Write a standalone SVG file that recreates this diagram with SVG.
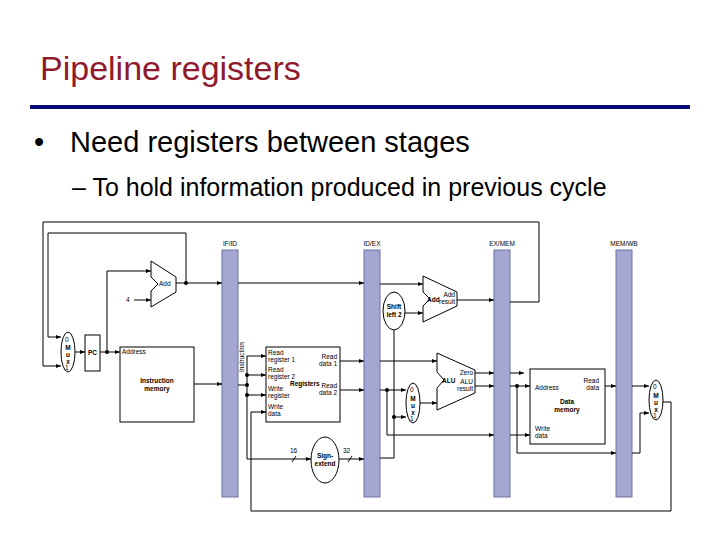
<svg xmlns="http://www.w3.org/2000/svg" width="720" height="540" viewBox="0 0 720 540">
<defs>
<marker id="a" viewBox="0 0 10 10" refX="10" refY="5" markerWidth="5" markerHeight="5" orient="auto"><path d="M0,1 L10,5 L0,9 z" fill="#000"/></marker>
<style>
.w{fill:none;stroke:#000;stroke-width:1}
.ar{marker-end:url(#a)}
.bar{fill:#a3a7d2;stroke:#6e72a6;stroke-width:1}
.box{fill:#fff;stroke:#000;stroke-width:1}
.t{font-family:"Liberation Sans",Arial,sans-serif;font-size:6.5px;fill:#000}
.b{font-family:"Liberation Sans",Arial,sans-serif;font-size:6.5px;font-weight:bold;fill:#000}
.d{fill:#000}
</style>
</defs>
<rect width="720" height="540" fill="#fff"/>
<text x="40" y="80" font-family="Liberation Sans,Arial,sans-serif" font-size="34" fill="#8f1a2e">Pipeline registers</text>
<rect x="30" y="105" width="660" height="4" fill="#0a0a78"/>
<text x="34" y="152" font-family="Liberation Sans,Arial,sans-serif" font-size="29" fill="#000">•</text>
<text x="70" y="152" font-family="Liberation Sans,Arial,sans-serif" font-size="29" fill="#000">Need registers between stages</text>
<text x="72" y="196" font-family="Liberation Sans,Arial,sans-serif" font-size="25" fill="#000">– To hold information produced in previous cycle</text>

<g id="ifid"><rect class="bar" x="222" y="250" width="16" height="247"/><text class="t" x="230" y="246" text-anchor="middle">IF/ID</text></g>
<g id="idex"><rect class="bar" x="364" y="250" width="16" height="247"/><text class="t" x="372" y="246" text-anchor="middle">ID/EX</text></g>
<g id="exmem"><rect class="bar" x="494" y="250" width="16" height="247"/><text class="t" x="502" y="246" text-anchor="middle">EX/MEM</text></g>
<g id="memwb"><rect class="bar" x="616" y="250" width="16" height="247"/><text class="t" x="624" y="246" text-anchor="middle">MEM/WB</text></g>

<g id="mux1"><ellipse class="box" cx="68" cy="352" rx="7" ry="20"/><text class="t" x="65" y="342" font-size="5.5">0</text><text class="b" x="68" y="350" text-anchor="middle">M</text><text class="b" x="68" y="357" text-anchor="middle">u</text><text class="b" x="68" y="364" text-anchor="middle">x</text><text class="t" x="65" y="370" font-size="5.5">1</text></g>
<g id="pc"><rect class="box" x="85" y="335" width="15" height="36"/><text class="b" x="92.5" y="355" text-anchor="middle">PC</text></g>
<g id="add1"><path class="box" d="M151,261 L176,277 L176,292 L151,307 L151,291 L158,284 L151,277 Z"/><text class="t" x="159" y="286">Add</text></g>
<g id="imem"><rect class="box" x="120" y="347" width="74" height="75"/><text class="t" x="122" y="354">Address</text><text class="b" x="157" y="383" text-anchor="middle">Instruction</text><text class="b" x="157" y="391" text-anchor="middle">memory</text></g>
<g id="regs"><rect class="box" x="266" y="347" width="74" height="75"/>
<text class="t" x="268" y="355">Read</text><text class="t" x="268" y="362">register 1</text>
<text class="t" x="268" y="372">Read</text><text class="t" x="268" y="379">register 2</text>
<text class="t" x="268" y="391">Write</text><text class="t" x="268" y="398">register</text>
<text class="t" x="268" y="409">Write</text><text class="t" x="268" y="416">data</text>
<text class="b" x="290" y="386">Registers</text>
<text class="t" x="337" y="359" text-anchor="end">Read</text><text class="t" x="337" y="366" text-anchor="end">data 1</text>
<text class="t" x="337" y="388" text-anchor="end">Read</text><text class="t" x="337" y="395" text-anchor="end">data 2</text></g>
<g id="sext"><ellipse class="box" cx="325" cy="460" rx="14" ry="23"/><text class="b" x="325" y="458" text-anchor="middle">Sign-</text><text class="b" x="325" y="466" text-anchor="middle">extend</text></g>
<g id="shift"><ellipse class="box" cx="394" cy="311" rx="11" ry="19"/><text class="b" x="394" y="309" text-anchor="middle">Shift</text><text class="b" x="394" y="317" text-anchor="middle">left 2</text></g>
<g id="add2"><path class="box" d="M423,276 L457,292 L457,306 L423,322 L423,306 L430,299 L423,292 Z"/><text class="b" x="427" y="302" font-size="5.5">Add</text><text class="t" x="455" y="297" text-anchor="end" font-size="5">Add</text><text class="t" x="455" y="304" text-anchor="end" font-size="5">result</text></g>
<g id="alu"><path class="box" d="M437,353 L475,370 L475,393 L437,410 L437,388 L444,380 L437,372 Z"/><text class="b" x="442" y="383">ALU</text><text class="t" x="473" y="375" text-anchor="end">Zero</text><text class="t" x="473" y="384" text-anchor="end">ALU</text><text class="t" x="473" y="391" text-anchor="end">result</text></g>
<g id="mux2"><ellipse class="box" cx="413" cy="403" rx="7" ry="20"/><text class="t" x="410" y="392" font-size="5.5">0</text><text class="b" x="413" y="401" text-anchor="middle">M</text><text class="b" x="413" y="408" text-anchor="middle">u</text><text class="b" x="413" y="415" text-anchor="middle">x</text><text class="t" x="410" y="421" font-size="5.5">1</text></g>
<g id="dmem"><rect class="box" x="530" y="369" width="75" height="75"/><text class="t" x="535" y="390">Address</text><text class="t" x="599" y="383" text-anchor="end">Read</text><text class="t" x="599" y="390" text-anchor="end">data</text><text class="b" x="567" y="404" text-anchor="middle">Data</text><text class="b" x="567" y="412" text-anchor="middle">memory</text><text class="t" x="535" y="431">Write</text><text class="t" x="535" y="438">data</text></g>
<g id="mux3"><ellipse class="box" cx="656" cy="400" rx="7" ry="20"/><text class="t" x="653" y="389" font-size="5.5">0</text><text class="b" x="656" y="398" text-anchor="middle">M</text><text class="b" x="656" y="405" text-anchor="middle">u</text><text class="b" x="656" y="412" text-anchor="middle">x</text><text class="t" x="653" y="418" font-size="5.5">1</text></g>

<g id="connectors">
<path class="w ar" d="M510,302 H539 V222 H43 V366 H61"/>
<path class="w ar" d="M186,283 V233 H48 V337 H61"/>
<path class="w ar" d="M75,352 H85"/>
<path class="w ar" d="M100,352 H120"/>
<path class="w ar" d="M107,352 V271 H151"/>
<path class="w ar" d="M134,300 H151"/>
<text class="t" x="126" y="302">4</text>
<path class="w ar" d="M176,283 H222"/>
<path class="w ar" d="M194,384 H222"/>
<path class="w ar" d="M238,283 H364"/>
<path class="w" d="M238,385 H247"/>
<path class="w" d="M247,356 V459"/>
<path class="w ar" d="M247,356 H266"/>
<path class="w ar" d="M247,375 H266"/>
<path class="w ar" d="M247,395 H266"/>
<path class="w ar" d="M247,459 H311"/>
<path class="w" d="M292,462 L296,456"/><text class="t" x="290" y="453">16</text>
<path class="w ar" d="M339,459 H364"/>
<path class="w" d="M348,462 L352,456"/><text class="t" x="343" y="453">32</text>
<path class="w ar" d="M340,361 H364"/>
<path class="w ar" d="M340,390 H364"/>
<path class="w ar" d="M663,402 H671 V511 H251 V412 H266"/>
<path class="w ar" d="M380,284 H423"/>
<path class="w ar" d="M405,313 H423"/>
<path class="w" d="M380,458 H394 V330"/>
<path class="w ar" d="M457,300 H494"/>
<path class="w ar" d="M380,361 H437"/>
<path class="w ar" d="M380,390 H406"/>
<path class="w ar" d="M394,417 H406"/>
<path class="w ar" d="M420,403 H437"/>
<path class="w ar" d="M387,390 V435 H494"/>
<path class="w ar" d="M475,373 H494"/>
<path class="w ar" d="M475,386 H494"/>
<path class="w ar" d="M510,373 H524"/>
<path class="w ar" d="M510,386 H530"/>
<path class="w ar" d="M517,386 V453 H616"/>
<path class="w ar" d="M510,435 H530"/>
<path class="w ar" d="M605,386 H616"/>
<path class="w ar" d="M632,386 H649"/>
<path class="w ar" d="M632,453 H640 V413 H649"/>
<circle class="d" cx="186" cy="283" r="2"/>
<circle class="d" cx="107" cy="352" r="2"/>
<circle class="d" cx="247" cy="375" r="2"/>
<circle class="d" cx="247" cy="385" r="2"/>
<circle class="d" cx="247" cy="395" r="2"/>
<circle class="d" cx="387" cy="390" r="2"/>
<circle class="d" cx="394" cy="417" r="2"/>
<circle class="d" cx="517" cy="386" r="2"/>
</g>
<text class="t" x="0" y="0" transform="translate(244,372) rotate(-90)">Instruction</text>
</svg>
